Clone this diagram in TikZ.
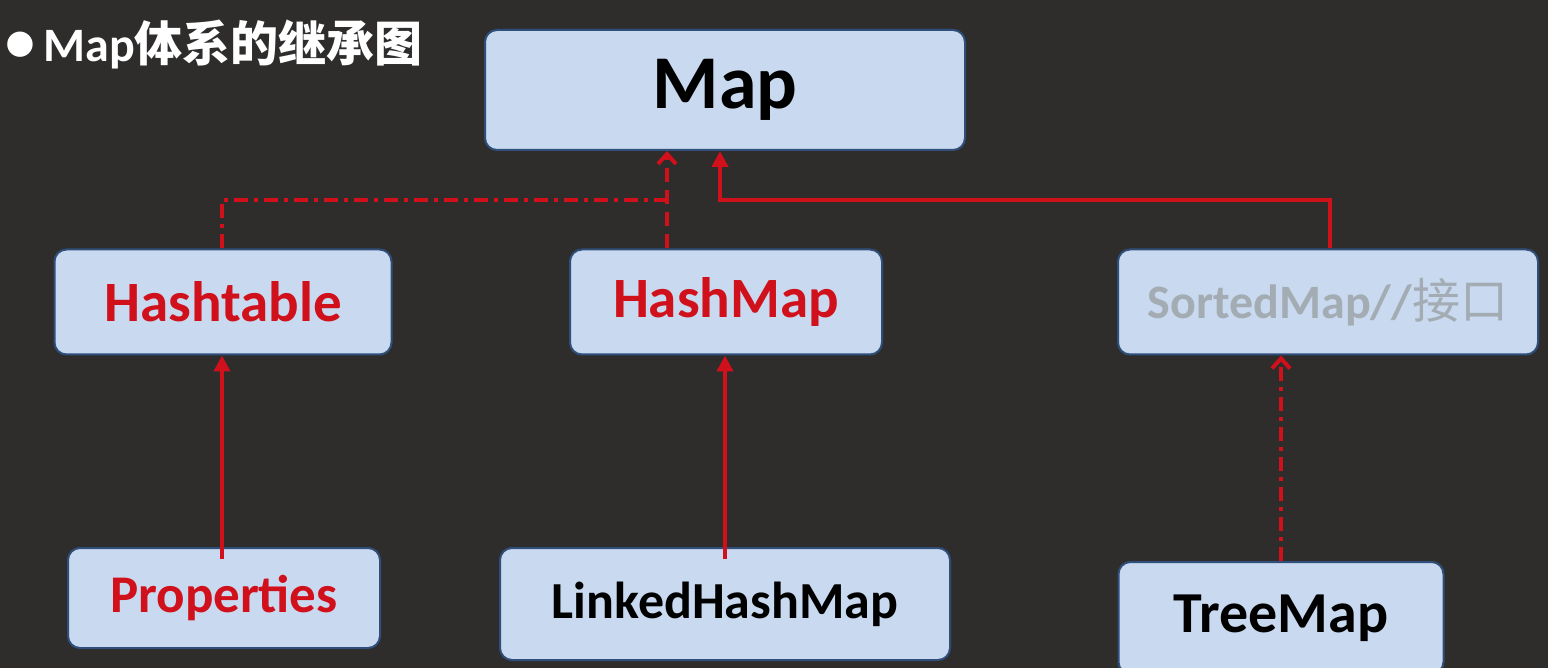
\documentclass[tikz,border=0pt]{standalone}
\usepackage{fontspec}
\setmainfont{Carlito}
\newfontfamily\cjk{Noto Sans CJK SC}
\usetikzlibrary{arrows.meta}
\definecolor{bg}{HTML}{2E2D2C}
\definecolor{boxfill}{HTML}{C9DAF0}
\definecolor{boxedge}{HTML}{2F4F7A}
\definecolor{lred}{HTML}{D0101A}
\definecolor{greytxt}{HTML}{A3ABB3}
\begin{document}
\begin{tikzpicture}[x=1pt,y=-1pt,
  box/.style={draw=boxedge,line width=2pt,fill=boxfill,rounded corners=12pt,inner sep=0pt,font=\bfseries},
  link/.style={draw=lred,line width=4pt},
  dd/.style={dash pattern=on 14pt off 6pt on 4pt off 6pt},
  solidtip/.style={-{Triangle[length=16pt,width=16pt]}},
  opentip/.style={-{Straight Barb[length=10pt,width=18pt,line width=4pt]}}]
\fill[bg] (0,0) rectangle (1548,668);
\useasboundingbox (0,0) rectangle (1548,668);
\node[anchor=west,text=white,font=\fontsize{48}{52}\selectfont\bfseries] (title) at (2,44) {{\fontsize{60}{60}\selectfont\textbullet}\,Map{\cjk 体系的继承图}};
\node[box,minimum width=480pt,minimum height=120pt,font=\fontsize{76}{80}\selectfont\bfseries] (map) at (725,90) {Map};
\node[box,minimum width=337pt,minimum height=105pt,text=lred,font=\fontsize{57}{60}\selectfont\bfseries] (ht) at (223,302) {Hashtable};
\node[box,minimum width=312pt,minimum height=105pt,text=lred,font=\fontsize{57}{60}\selectfont\bfseries] (hm) at (726,302) {HashMap};
\node[box,minimum width=420pt,minimum height=105pt,text=greytxt,font=\fontsize{48}{50}\selectfont\bfseries] (sm) at (1328,302) {SortedMap//{\cjk\mdseries 接口}};
\node[box,minimum width=312pt,minimum height=100pt,text=lred,font=\fontsize{53}{56}\selectfont\bfseries] (pr) at (224,598) {Properties};
\node[box,minimum width=450pt,minimum height=112pt,font=\fontsize{52}{56}\selectfont\bfseries] (lhm) at (725,604) {LinkedHashMap};
\node[box,minimum width=325pt,minimum height=112pt,font=\fontsize{58}{60}\selectfont\bfseries] (tm) at (1281,618) {TreeMap};
\coordinate (j1) at (222,200);
\coordinate (j2) at (667,200);
\coordinate (j3) at (1330,200);
\coordinate (j4) at (720,200);
\draw[link,dd] (ht.north -| j1) -- (j1) -- (j2);
\draw[link,dash pattern=on 14pt off 8pt,opentip] (hm.north -| j2) -- (map.south -| j2);
\draw[link,solidtip] (sm.north -| j3) -- (j3) -- (j4) -- (map.south -| j4);
\draw[link,solidtip] ([yshift=-12pt]pr.north -| j1) -- (ht.south -| j1);
\draw[link,solidtip] ([yshift=-12pt]lhm.north) -- (hm.south -| lhm.north);
\draw[link,dd,opentip] (tm.north) -- (sm.south -| tm.north);
\end{tikzpicture}
\end{document}
